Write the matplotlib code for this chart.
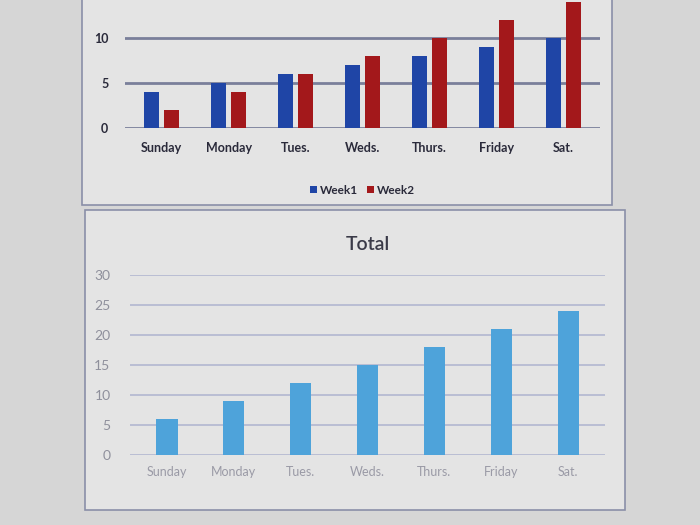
import matplotlib
matplotlib.use("Agg")
import matplotlib.pyplot as plt
from matplotlib.patches import Rectangle
import numpy as np

plt.rcParams["font.family"] = ["Lato", "DejaVu Sans"]

days = ["Sunday", "Monday", "Tues.", "Weds.", "Thurs.", "Friday", "Sat."]
week1 = [4, 5, 6, 7, 8, 9, 10]
week2 = [2, 4, 6, 8, 10, 12, 14]
total = [6, 9, 12, 15, 18, 21, 24]

W, H = 700, 525
fig = plt.figure(figsize=(7, 5.25), dpi=100, facecolor="#d6d6d6")


def panel(x0, y0, x1, y1):
    # pixel box -> figure coords, kept behind the axes
    fig.add_artist(Rectangle((x0 / W, 1 - y1 / H), (x1 - x0) / W, (y1 - y0) / H,
                             transform=fig.transFigure, facecolor="#e4e4e4",
                             edgecolor="#8a8fa8", linewidth=1.2, zorder=-5))


panel(82, -5, 612, 205)
panel(85, 210, 625, 510)

x = np.arange(len(days))

# top chart: week1 vs week2
ax1 = fig.add_axes([125 / W, 1 - 128 / H, 475 / W, 128 / H])
ax1.set_facecolor("none")
bw = 0.22
ax1.bar(x - 0.15, week1, bw, color="#1f45a6", label="Week1", zorder=3)
ax1.bar(x + 0.15, week2, bw, color="#a3181b", label="Week2", zorder=3)
ax1.set_ylim(0, 14.2)
ax1.set_xlim(-0.55, len(days) - 0.45)
ax1.set_yticks([0, 5, 10])
ax1.yaxis.grid(True, color="#7a7f9a", linewidth=2.0, zorder=0)
ax1.set_xticks(x)
ax1.set_xticklabels(days, fontsize=9, fontweight="bold", color="#2a2a3a")
for lab in ax1.get_yticklabels():
    lab.set_fontweight("bold")
    lab.set_fontsize(9)
    lab.set_color("#2a2a3a")
ax1.tick_params(length=0, pad=10)
ax1.tick_params(axis="y", pad=12)
for s in ax1.spines.values():
    s.set_visible(False)
ax1.legend(loc="upper center", bbox_to_anchor=(0.5, -0.36), ncol=2, frameon=False,
           handlelength=0.6, handleheight=0.6, columnspacing=0.8,
           handletextpad=0.2, prop={"weight": "bold", "size": 8.5})
for t in ax1.get_legend().get_texts():
    t.set_color("#2a2a3a")

# bottom chart: total
ax2 = fig.add_axes([130 / W, 1 - 455 / H, 475 / W, 180 / H])
ax2.set_facecolor("none")
ax2.bar(x, total, 0.32, color="#4ea3da", zorder=3)
ax2.set_ylim(0, 30)
ax2.set_xlim(-0.55, len(days) - 0.45)
ax2.set_yticks(range(0, 31, 5))
ax2.yaxis.grid(True, color="#b9bdd3", linewidth=1.4, zorder=0)
ax2.set_xticks(x)
ax2.set_xticklabels(days, fontsize=9, color="#9a9aa6")
for lab in ax2.get_yticklabels():
    lab.set_fontsize(10)
    lab.set_color("#8f909c")
ax2.tick_params(length=0, pad=8)
ax2.tick_params(axis="y", pad=14)
for s in ax2.spines.values():
    s.set_visible(False)
ax2.set_title("Total", fontsize=14, fontweight="semibold", color="#3a3a48", pad=18)

fig.savefig("out.png", dpi=100, facecolor=fig.get_facecolor())
